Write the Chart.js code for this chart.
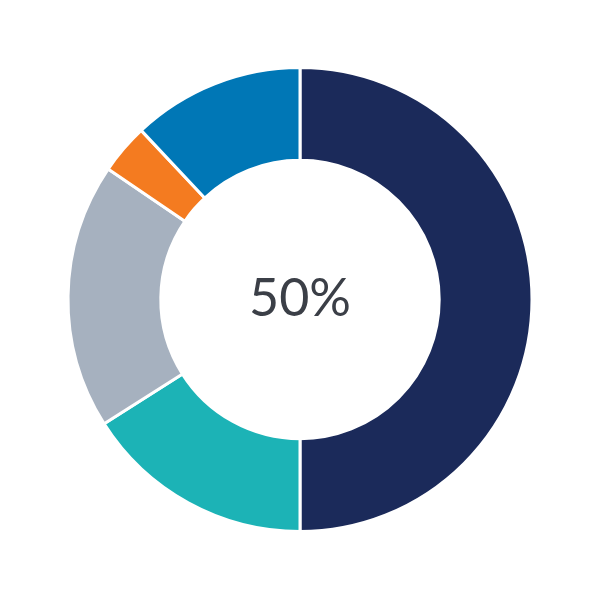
<!DOCTYPE html>
<html>
<head>
<meta charset="utf-8">
<script src="https://cdn.jsdelivr.net/npm/chart.js@4/dist/chart.umd.min.js"></script>
<style>
  html, body { margin: 0; padding: 0; background: #fff; }
  #wrap { width: 600px; height: 599px; }
</style>
</head>
<body>
<div id="wrap"><canvas id="grafico-donut"></canvas></div>
<script>
// slices, clockwise from the top
var labels = ["Navy", "Teal", "Gray", "Orange", "Blue"];
var values = [50, 16, 18.5, 3.5, 12];
var colors = ["#1b2a5a", "#1cb3b6", "#a6b1bf", "#f47b20", "#0077b6"];
var centerText = "50%";

// draws the label in the hole
var centerLabel = {
    id: 'centerLabel',
    afterDraw: function(chart){
        var ctx = chart.ctx;
        var meta = chart.getDatasetMeta(0).data[0];
        ctx.save();
        ctx.font = '52px Lato';
        ctx.fillStyle = '#3b3f47';
        ctx.textAlign = 'center';
        ctx.textBaseline = 'middle';
        ctx.fillText(centerText, meta.x, meta.y);
        ctx.restore();
    }
};

function grafDonut(){
    var ctx = document.getElementById('grafico-donut').getContext("2d");
    var myDonut = new Chart(ctx, {
        type: 'doughnut',
        data: {
            labels: labels,
            datasets: [{
                data: values,
                backgroundColor: colors,
                borderColor: '#ffffff',
                borderWidth: 3
            }]
        },
        options: {
            responsive: true,
            maintainAspectRatio: false,
            animation: false,
            cutout: '60%',
            layout: { padding: 66 },
            plugins: {
                legend: { display: false },
                tooltip: { enabled: false }
            }
        },
        plugins: [centerLabel]
    });
}

grafDonut();
</script>
</body>
</html>
